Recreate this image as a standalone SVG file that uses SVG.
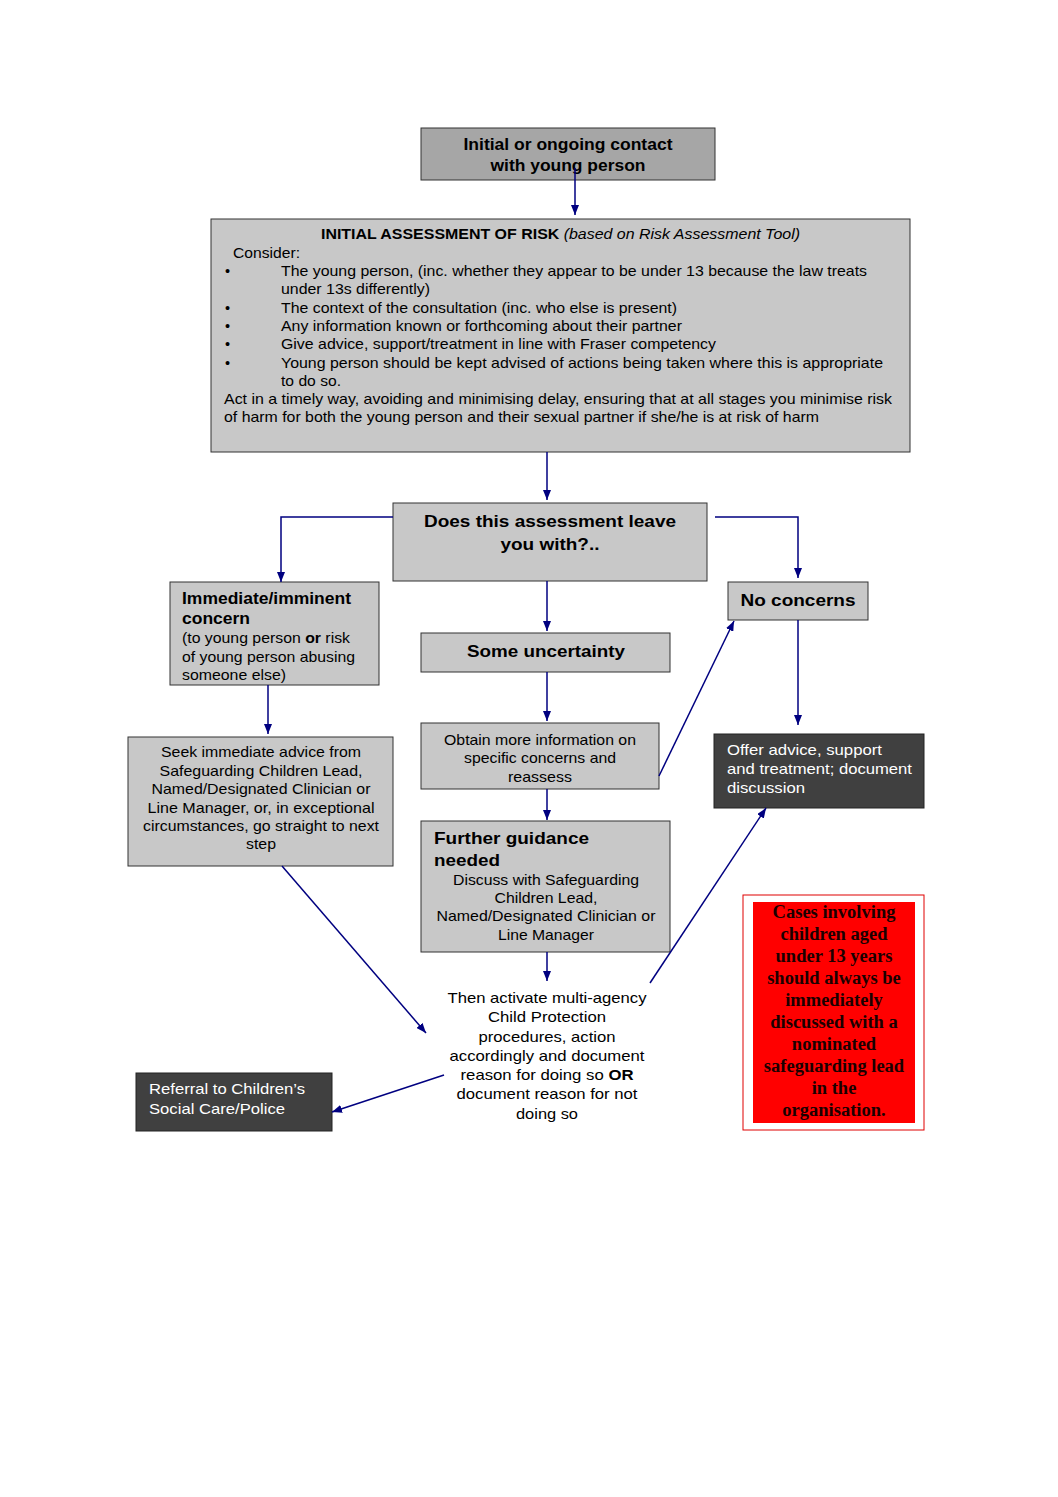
<svg xmlns="http://www.w3.org/2000/svg" width="1058" height="1497" viewBox="0 0 1058 1497">
<style>
.box{fill:#c8c8c8;stroke:#333;stroke-width:1}
.dark{fill:#404040;stroke:#222;stroke-width:1}
.t{font-family:"Liberation Sans",Arial,sans-serif;font-size:14.5px;fill:#000}
.b{font-weight:bold;font-size:17px}
.w{fill:#fff}
.c{text-anchor:middle}
.red{font-family:"Liberation Serif","Times New Roman",serif;font-weight:bold;font-size:18.5px;fill:#1a0000;text-anchor:middle}
.conn{fill:none;stroke:#000080;stroke-width:1.5}
</style>
<defs>
<marker id="ah" viewBox="0 0 10 8" markerWidth="10" markerHeight="8" refX="10" refY="4" orient="auto" markerUnits="userSpaceOnUse">
<path d="M0,0 L10,4 L0,8 z" fill="#000080"/>
</marker>
</defs>
<rect width="1058" height="1497" fill="#fff"/>

<g id="n-start">
<rect x="421" y="128" width="294" height="52" fill="#a6a6a6" stroke="#333"/>
<text class="t c" x="568" y="150" style="font-weight:bold;font-size:16px" textLength="209" lengthAdjust="spacingAndGlyphs">Initial or ongoing contact</text>
<text class="t c" x="568" y="171" style="font-weight:bold;font-size:16px" textLength="155" lengthAdjust="spacingAndGlyphs">with young person</text>
</g>

<g id="n-assess">
<rect class="box" x="211" y="219" width="699" height="233"/>
<text class="t" x="321" y="239" textLength="479" lengthAdjust="spacingAndGlyphs"><tspan font-weight="bold">INITIAL ASSESSMENT OF RISK</tspan><tspan font-style="italic"> (based on Risk Assessment Tool)</tspan></text>
<text class="t" x="233" y="258" textLength="67" lengthAdjust="spacingAndGlyphs">Consider:</text>
<text class="t" x="225" y="276">•</text>
<text class="t" x="225" y="313">•</text>
<text class="t" x="225" y="331">•</text>
<text class="t" x="225" y="349">•</text>
<text class="t" x="225" y="368">•</text>
<text class="t" x="281" y="276" textLength="586" lengthAdjust="spacingAndGlyphs">The young person, (inc. whether they appear to be under 13 because the law treats</text>
<text class="t" x="281" y="294" textLength="149" lengthAdjust="spacingAndGlyphs">under 13s differently)</text>
<text class="t" x="281" y="313" textLength="396" lengthAdjust="spacingAndGlyphs">The context of the consultation (inc. who else is present)</text>
<text class="t" x="281" y="331" textLength="401" lengthAdjust="spacingAndGlyphs">Any information known or forthcoming about their partner</text>
<text class="t" x="281" y="349" textLength="435" lengthAdjust="spacingAndGlyphs">Give advice, support/treatment in line with Fraser competency</text>
<text class="t" x="281" y="368" textLength="602" lengthAdjust="spacingAndGlyphs">Young person should be kept advised of actions being taken where this is appropriate</text>
<text class="t" x="281" y="386" textLength="60" lengthAdjust="spacingAndGlyphs">to do so.</text>
<text class="t" x="224" y="404" textLength="668" lengthAdjust="spacingAndGlyphs">Act in a timely way, avoiding and minimising delay, ensuring that at all stages you minimise risk</text>
<text class="t" x="224" y="422" textLength="595" lengthAdjust="spacingAndGlyphs">of harm for both the young person and their sexual partner if she/he is at risk of harm</text>
</g>

<g id="n-question">
<rect class="box" x="393" y="503" width="314" height="78"/>
<text class="t b c" x="550" y="527" textLength="252" lengthAdjust="spacingAndGlyphs">Does this assessment leave</text>
<text class="t b c" x="550" y="550" textLength="99" lengthAdjust="spacingAndGlyphs">you with?..</text>
</g>

<g id="n-immediate">
<rect class="box" x="170" y="582" width="209" height="103"/>
<text class="t" x="182" y="604" style="font-weight:bold;font-size:16px" textLength="169" lengthAdjust="spacingAndGlyphs">Immediate/imminent</text>
<text class="t" x="182" y="624" style="font-weight:bold;font-size:16px" textLength="68" lengthAdjust="spacingAndGlyphs">concern</text>
<text class="t" x="182" y="643" textLength="168" lengthAdjust="spacingAndGlyphs">(to young person <tspan font-weight="bold">or</tspan> risk</text>
<text class="t" x="182" y="662" textLength="173" lengthAdjust="spacingAndGlyphs">of young person abusing</text>
<text class="t" x="182" y="680" textLength="104" lengthAdjust="spacingAndGlyphs">someone else)</text>
</g>

<g id="n-noconcerns">
<rect class="box" x="728" y="582" width="140" height="38"/>
<text class="t c" x="798" y="606" style="font-weight:bold;font-size:16px" textLength="115" lengthAdjust="spacingAndGlyphs">No concerns</text>
</g>

<g id="n-uncertainty">
<rect class="box" x="421" y="633" width="249" height="39"/>
<text class="t b c" x="546" y="657" textLength="158" lengthAdjust="spacingAndGlyphs">Some uncertainty</text>
</g>

<g id="n-obtain">
<rect class="box" x="421" y="723" width="238" height="66"/>
<text class="t c" x="540" y="745" textLength="192" lengthAdjust="spacingAndGlyphs">Obtain more information on</text>
<text class="t c" x="540" y="763" textLength="152" lengthAdjust="spacingAndGlyphs">specific concerns and</text>
<text class="t c" x="540" y="782" textLength="64" lengthAdjust="spacingAndGlyphs">reassess</text>
</g>

<g id="n-further">
<rect class="box" x="421" y="821" width="249" height="131"/>
<text class="t b" x="434" y="844" textLength="155" lengthAdjust="spacingAndGlyphs">Further guidance</text>
<text class="t b" x="434" y="866" textLength="66" lengthAdjust="spacingAndGlyphs">needed</text>
<text class="t c" x="546" y="885" textLength="186" lengthAdjust="spacingAndGlyphs">Discuss with Safeguarding</text>
<text class="t c" x="546" y="903" textLength="103" lengthAdjust="spacingAndGlyphs">Children Lead,</text>
<text class="t c" x="546" y="921" textLength="219" lengthAdjust="spacingAndGlyphs">Named/Designated Clinician or</text>
<text class="t c" x="546" y="940" textLength="96" lengthAdjust="spacingAndGlyphs">Line Manager</text>
</g>

<g id="n-offer">
<rect class="dark" x="714" y="734" width="210" height="74"/>
<text class="t w" x="727" y="755" textLength="155" lengthAdjust="spacingAndGlyphs">Offer advice, support</text>
<text class="t w" x="727" y="774" textLength="185" lengthAdjust="spacingAndGlyphs">and treatment; document</text>
<text class="t w" x="727" y="793" textLength="78" lengthAdjust="spacingAndGlyphs">discussion</text>
</g>

<g id="n-seek">
<rect class="box" x="128" y="737" width="265" height="129"/>
<text class="t c" x="261" y="757" textLength="200" lengthAdjust="spacingAndGlyphs">Seek immediate advice from</text>
<text class="t c" x="261" y="776" textLength="203" lengthAdjust="spacingAndGlyphs">Safeguarding Children Lead,</text>
<text class="t c" x="261" y="794" textLength="219" lengthAdjust="spacingAndGlyphs">Named/Designated Clinician or</text>
<text class="t c" x="261" y="813" textLength="227" lengthAdjust="spacingAndGlyphs">Line Manager, or, in exceptional</text>
<text class="t c" x="261" y="831" textLength="236" lengthAdjust="spacingAndGlyphs">circumstances, go straight to next</text>
<text class="t c" x="261" y="849" textLength="30" lengthAdjust="spacingAndGlyphs">step</text>
</g>

<g id="n-activate">
<text class="t c" x="547" y="1003" textLength="199" lengthAdjust="spacingAndGlyphs">Then activate multi-agency</text>
<text class="t c" x="547" y="1022" textLength="118" lengthAdjust="spacingAndGlyphs">Child Protection</text>
<text class="t c" x="547" y="1042" textLength="137" lengthAdjust="spacingAndGlyphs">procedures, action</text>
<text class="t c" x="547" y="1061" textLength="195" lengthAdjust="spacingAndGlyphs">accordingly and document</text>
<text class="t c" x="547" y="1080" textLength="173" lengthAdjust="spacingAndGlyphs">reason for doing so <tspan font-weight="bold">OR</tspan></text>
<text class="t c" x="547" y="1099" textLength="181" lengthAdjust="spacingAndGlyphs">document reason for not</text>
<text class="t c" x="547" y="1119" textLength="62" lengthAdjust="spacingAndGlyphs">doing so</text>
</g>

<g id="n-referral">
<rect class="dark" x="136" y="1073" width="196" height="58"/>
<text class="t w" x="149" y="1094" textLength="156" lengthAdjust="spacingAndGlyphs">Referral to Children’s</text>
<text class="t w" x="149" y="1114" textLength="136" lengthAdjust="spacingAndGlyphs">Social Care/Police</text>
</g>

<g id="n-note">
<rect x="743" y="895" width="181" height="235" fill="#fff" stroke="#e00000" stroke-width="1"/>
<rect x="753" y="902" width="162" height="221" fill="#ff0000"/>
<text class="red" x="834" y="918">Cases involving</text>
<text class="red" x="834" y="940">children aged</text>
<text class="red" x="834" y="962">under 13 years</text>
<text class="red" x="834" y="984">should always be</text>
<text class="red" x="834" y="1006">immediately</text>
<text class="red" x="834" y="1028">discussed with a</text>
<text class="red" x="834" y="1050">nominated</text>
<text class="red" x="834" y="1072">safeguarding lead</text>
<text class="red" x="834" y="1094">in the</text>
<text class="red" x="834" y="1116">organisation.</text>
</g>

<g id="connectors">
<path class="conn" d="M575,168 V215" marker-end="url(#ah)"/>
<path class="conn" d="M547,452 V500" marker-end="url(#ah)"/>
<path class="conn" d="M393,517 H281 V582" marker-end="url(#ah)"/>
<path class="conn" d="M715,517 H798 V578" marker-end="url(#ah)"/>
<path class="conn" d="M547,581 V631" marker-end="url(#ah)"/>
<path class="conn" d="M547,672 V721" marker-end="url(#ah)"/>
<path class="conn" d="M659,776 L734,621" marker-end="url(#ah)"/>
<path class="conn" d="M547,789 V820" marker-end="url(#ah)"/>
<path class="conn" d="M798,620 V725" marker-end="url(#ah)"/>
<path class="conn" d="M268,685 V734" marker-end="url(#ah)"/>
<path class="conn" d="M547,952 V981" marker-end="url(#ah)"/>
<path class="conn" d="M650,983 L766,808" marker-end="url(#ah)"/>
<path class="conn" d="M282,866 L426,1033" marker-end="url(#ah)"/>
<path class="conn" d="M444,1075 L332,1112" marker-end="url(#ah)"/>
</g>
</svg>
